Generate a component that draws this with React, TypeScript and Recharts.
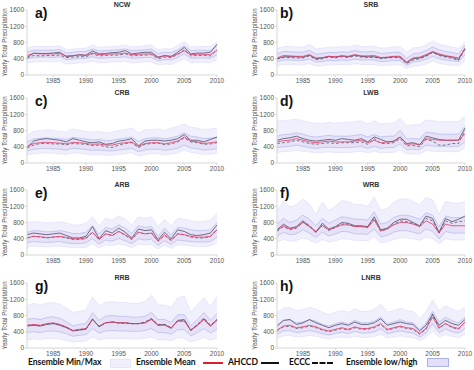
import React from 'react';
import { ComposedChart, Area, Line, XAxis, YAxis } from 'recharts';

// years 1981-2010
const YEARS = [
  1981, 1982, 1983, 1984, 1985, 1986, 1987, 1988, 1989, 1990,
  1991, 1992, 1993, 1994, 1995, 1996, 1997, 1998, 1999, 2000,
  2001, 2002, 2003, 2004, 2005, 2006, 2007, 2008, 2009, 2010,
];
const X_TICKS = [1985, 1990, 1995, 2000, 2005, 2010];
const Y_TICKS = [0, 400, 800, 1200, 1600];

// a) NCW
const NCW_MEAN = [480, 530, 520, 520, 520, 530, 470, 480, 490, 480, 540, 500, 510, 520, 520, 540, 500, 510, 520, 520, 430, 470, 450, 520, 600, 500, 510, 510, 500, 610];
const NCW_AHCCD = [430, 540, 530, 530, 540, 560, 450, 470, 500, 490, 590, 520, 530, 550, 560, 600, 520, 540, 560, 560, 440, 480, 460, 560, 680, 520, 540, 540, 560, 760];
const NCW_ECCC = [420, 480, 470, 480, 480, 490, 430, 440, 450, 450, 520, 470, 480, 490, 490, 520, 470, 480, 490, 500, 400, 440, 430, 500, 620, 470, 480, 480, 470, 620];
const NCW_MAX = [650, 700, 700, 700, 700, 720, 620, 640, 660, 660, 740, 680, 690, 700, 710, 740, 690, 700, 720, 740, 620, 650, 640, 720, 830, 690, 700, 700, 700, 820];
const NCW_MIN = [300, 320, 330, 330, 320, 340, 270, 280, 300, 300, 340, 300, 310, 320, 320, 330, 300, 310, 320, 320, 250, 270, 260, 320, 400, 300, 310, 310, 300, 380];
const NCW_LOW = [400, 430, 440, 440, 430, 450, 380, 390, 410, 410, 450, 410, 420, 430, 430, 450, 410, 420, 430, 430, 350, 380, 370, 430, 520, 410, 420, 420, 410, 500];
const NCW_HIGH = [570, 610, 610, 610, 610, 630, 540, 560, 580, 580, 640, 590, 600, 610, 620, 640, 600, 610, 620, 640, 530, 560, 550, 620, 720, 600, 610, 610, 600, 720];

// b) SRB
const SRB_MEAN = [420, 480, 470, 460, 460, 500, 420, 430, 460, 450, 470, 460, 500, 470, 470, 480, 430, 440, 460, 460, 320, 420, 440, 500, 580, 520, 480, 450, 420, 640];
const SRB_AHCCD = [400, 450, 450, 450, 440, 490, 400, 420, 460, 440, 470, 450, 490, 460, 450, 450, 420, 430, 450, 440, 300, 400, 420, 480, 560, 500, 460, 440, 380, 660];
const SRB_ECCC = [390, 430, 430, 420, 420, 470, 380, 400, 440, 420, 450, 430, 470, 440, 430, 440, 400, 420, 430, 420, 280, 370, 400, 460, 560, 480, 440, 410, 360, 640];
const SRB_MAX = [650, 700, 700, 690, 690, 750, 640, 660, 690, 680, 700, 690, 740, 700, 700, 710, 660, 670, 690, 700, 560, 670, 680, 740, 830, 760, 720, 690, 650, 820];
const SRB_MIN = [220, 260, 260, 250, 250, 280, 220, 230, 250, 250, 260, 250, 280, 260, 260, 260, 230, 240, 250, 250, 160, 220, 230, 270, 340, 290, 260, 240, 220, 350];
const SRB_LOW = [320, 370, 370, 360, 360, 390, 320, 330, 360, 350, 370, 360, 390, 370, 370, 370, 330, 340, 360, 360, 240, 320, 340, 390, 460, 400, 370, 350, 320, 500];
const SRB_HIGH = [520, 580, 570, 560, 560, 610, 510, 530, 560, 550, 570, 560, 600, 570, 570, 580, 530, 540, 560, 560, 410, 520, 540, 600, 690, 620, 580, 550, 520, 740];

// c) CRB
const CRB_MEAN = [400, 480, 500, 510, 500, 490, 470, 510, 500, 480, 460, 470, 440, 440, 480, 500, 520, 410, 480, 500, 500, 470, 500, 540, 640, 540, 520, 480, 500, 520];
const CRB_AHCCD = [380, 540, 580, 600, 580, 560, 520, 600, 560, 520, 500, 520, 460, 480, 540, 560, 600, 420, 540, 560, 560, 540, 560, 600, 700, 560, 560, 520, 580, 640];
const CRB_ECCC = [370, 440, 480, 480, 470, 470, 450, 480, 470, 460, 430, 440, 400, 380, 440, 480, 500, 380, 460, 480, 490, 450, 470, 520, 620, 520, 500, 460, 470, 500];
const CRB_MAX = [680, 780, 800, 820, 800, 780, 760, 840, 800, 780, 760, 780, 740, 760, 800, 820, 860, 740, 820, 820, 840, 800, 860, 900, 960, 880, 860, 820, 840, 860];
const CRB_MIN = [200, 230, 240, 250, 240, 230, 210, 250, 240, 220, 200, 210, 190, 190, 210, 230, 250, 170, 210, 230, 230, 200, 220, 250, 320, 260, 240, 210, 220, 240];
const CRB_LOW = [300, 340, 350, 360, 350, 340, 320, 360, 350, 330, 310, 320, 300, 300, 320, 340, 360, 280, 320, 340, 340, 310, 330, 360, 440, 370, 350, 320, 330, 350];
const CRB_HIGH = [520, 590, 610, 620, 610, 600, 580, 630, 610, 590, 570, 580, 550, 560, 590, 610, 640, 530, 600, 620, 620, 590, 620, 660, 740, 660, 640, 600, 610, 630];

// d) LWB
const LWB_MEAN = [520, 550, 560, 600, 560, 520, 500, 520, 540, 520, 520, 520, 540, 560, 500, 560, 500, 520, 520, 640, 460, 470, 460, 600, 580, 560, 560, 560, 560, 720];
const LWB_AHCCD = [560, 600, 620, 660, 600, 560, 540, 560, 580, 560, 600, 580, 560, 600, 520, 640, 580, 520, 540, 640, 480, 500, 440, 660, 620, 580, 560, 560, 560, 860];
const LWB_ECCC = [480, 500, 520, 560, 520, 480, 460, 480, 500, 480, 500, 500, 500, 520, 460, 600, 480, 480, 500, 600, 420, 430, 400, 580, 540, 440, 440, 480, 480, 800];
const LWB_MAX = [1040, 1040, 1060, 1080, 1040, 1000, 980, 980, 1000, 980, 1000, 1000, 1020, 1040, 960, 1040, 960, 980, 980, 1100, 920, 940, 940, 1060, 1040, 1020, 1020, 1020, 1020, 1160];
const LWB_MIN = [260, 280, 290, 310, 290, 270, 250, 260, 270, 260, 260, 260, 270, 290, 250, 290, 250, 260, 260, 330, 220, 230, 220, 310, 290, 280, 280, 280, 280, 380];
const LWB_LOW = [380, 400, 410, 440, 410, 380, 360, 380, 390, 380, 380, 380, 390, 410, 360, 410, 360, 380, 380, 470, 330, 340, 330, 440, 420, 410, 410, 410, 410, 520];
const LWB_HIGH = [660, 700, 710, 740, 710, 660, 640, 660, 680, 660, 660, 660, 680, 700, 640, 700, 640, 660, 660, 800, 590, 600, 590, 760, 740, 710, 710, 710, 710, 900];

// e) ARB
const ARB_MEAN = [420, 460, 450, 430, 440, 460, 430, 400, 400, 420, 560, 380, 520, 480, 580, 500, 400, 560, 520, 540, 340, 500, 360, 520, 500, 460, 440, 440, 460, 620];
const ARB_AHCCD = [500, 540, 520, 500, 520, 540, 480, 420, 420, 460, 700, 400, 600, 540, 660, 560, 420, 640, 600, 620, 380, 560, 400, 620, 580, 500, 480, 500, 540, 740];
const ARB_ECCC = [420, 460, 440, 420, 440, 450, 420, 380, 380, 400, 560, 380, 520, 480, 580, 480, 380, 560, 520, 540, 340, 480, 360, 520, 500, 440, 420, 420, 460, 640];
const ARB_MAX = [800, 820, 810, 790, 800, 820, 790, 740, 740, 780, 940, 720, 900, 860, 960, 880, 740, 940, 900, 940, 700, 880, 720, 900, 880, 840, 820, 820, 860, 1020];
const ARB_MIN = [200, 220, 210, 200, 210, 220, 200, 180, 180, 190, 280, 170, 250, 230, 280, 240, 180, 270, 250, 260, 150, 240, 160, 250, 240, 220, 210, 210, 220, 300];
const ARB_LOW = [300, 330, 320, 310, 320, 330, 300, 280, 280, 300, 400, 270, 370, 340, 410, 350, 280, 400, 370, 390, 240, 350, 260, 370, 350, 330, 320, 320, 330, 440];
const ARB_HIGH = [560, 600, 590, 570, 580, 600, 570, 530, 530, 560, 720, 510, 680, 640, 740, 660, 530, 720, 680, 700, 460, 660, 490, 680, 660, 620, 600, 600, 620, 800];

// f) WRB
const WRB_MEAN = [600, 720, 640, 680, 800, 700, 580, 720, 620, 680, 740, 740, 700, 700, 680, 860, 600, 640, 740, 800, 800, 760, 700, 840, 760, 540, 760, 720, 720, 720];
const WRB_AHCCD = [620, 760, 660, 700, 840, 720, 560, 780, 640, 700, 800, 780, 720, 720, 700, 940, 620, 660, 800, 880, 880, 800, 720, 960, 900, 560, 900, 820, 880, 960];
const WRB_ECCC = [580, 700, 620, 660, 820, 700, 560, 740, 600, 680, 760, 760, 700, 700, 680, 900, 580, 640, 760, 840, 820, 780, 700, 900, 840, 540, 840, 780, 820, 840];
const WRB_MAX = [1080, 1340, 1180, 1240, 1380, 1260, 1000, 1300, 1100, 1200, 1340, 1320, 1240, 1240, 1200, 1420, 1100, 1140, 1300, 1380, 1380, 1320, 1240, 1420, 1360, 1000, 1320, 1280, 1280, 1300];
const WRB_MIN = [320, 380, 340, 360, 420, 370, 290, 380, 320, 350, 400, 390, 360, 360, 350, 440, 300, 320, 380, 420, 420, 400, 360, 440, 400, 280, 400, 370, 370, 370];
const WRB_LOW = [460, 560, 500, 520, 620, 540, 430, 560, 470, 520, 580, 570, 520, 520, 510, 640, 450, 480, 560, 600, 600, 560, 520, 640, 580, 400, 580, 540, 540, 540];
const WRB_HIGH = [760, 900, 800, 860, 980, 880, 720, 900, 780, 860, 940, 920, 880, 880, 860, 1060, 760, 800, 920, 980, 980, 940, 880, 1040, 980, 700, 960, 920, 920, 920];

// g) RRB
const RRB_MEAN = [560, 580, 560, 600, 620, 580, 520, 430, 460, 480, 700, 540, 620, 640, 620, 620, 600, 600, 620, 700, 560, 560, 500, 660, 660, 440, 560, 700, 540, 680];
const RRB_AHCCD = [540, 560, 540, 580, 600, 560, 500, 420, 440, 460, 720, 520, 620, 640, 620, 620, 600, 600, 620, 720, 560, 580, 480, 680, 700, 430, 560, 720, 540, 700];
const RRB_ECCC = [560, 570, 550, 590, 610, 570, 510, 430, 450, 470, 700, 530, 620, 640, 610, 610, 600, 600, 640, 720, 580, 580, 500, 660, 680, 450, 580, 740, 560, 700];
const RRB_MAX = [1040, 1100, 1060, 1100, 1120, 1080, 980, 880, 900, 940, 1260, 1040, 1120, 1140, 1120, 1120, 1100, 1100, 1140, 1300, 1060, 1060, 1000, 1240, 1280, 880, 1060, 1240, 1020, 1280];
const RRB_MIN = [200, 220, 210, 230, 240, 220, 190, 150, 160, 170, 270, 200, 230, 240, 230, 230, 220, 220, 240, 270, 200, 200, 180, 250, 240, 150, 200, 260, 190, 250];
const RRB_LOW = [380, 400, 380, 410, 420, 400, 350, 290, 310, 330, 480, 370, 420, 430, 420, 420, 410, 410, 430, 480, 380, 380, 340, 450, 450, 300, 380, 480, 370, 460];
const RRB_HIGH = [700, 730, 700, 750, 770, 730, 650, 540, 580, 600, 870, 680, 780, 800, 780, 780, 760, 760, 780, 870, 700, 700, 630, 820, 820, 550, 700, 870, 680, 850];

// h) LNRB
const LNRB_MEAN = [440, 540, 560, 500, 520, 560, 520, 460, 420, 460, 500, 460, 520, 480, 480, 520, 600, 460, 500, 540, 500, 480, 360, 480, 760, 500, 600, 520, 480, 640];
const LNRB_AHCCD = [540, 680, 700, 580, 620, 700, 620, 560, 500, 560, 600, 560, 640, 580, 580, 620, 720, 560, 600, 640, 600, 580, 420, 560, 820, 560, 680, 600, 560, 700];
const LNRB_ECCC = [420, 520, 540, 480, 500, 540, 500, 440, 400, 440, 480, 440, 500, 460, 460, 500, 580, 440, 480, 520, 480, 460, 340, 460, 840, 480, 600, 500, 460, 640];
const LNRB_MAX = [860, 980, 1000, 920, 950, 1000, 960, 880, 820, 880, 920, 880, 960, 900, 900, 950, 1080, 880, 920, 980, 920, 900, 720, 900, 1180, 920, 1040, 960, 900, 1000];
const LNRB_MIN = [240, 300, 310, 270, 280, 310, 290, 250, 220, 250, 270, 250, 290, 260, 260, 280, 340, 250, 270, 300, 270, 260, 180, 260, 420, 270, 330, 290, 260, 340];
const LNRB_LOW = [340, 420, 430, 380, 400, 430, 400, 350, 320, 360, 390, 350, 410, 370, 370, 400, 470, 350, 390, 420, 390, 370, 270, 370, 600, 380, 470, 400, 370, 480];
const LNRB_HIGH = [560, 680, 700, 620, 640, 700, 660, 580, 540, 600, 640, 590, 680, 620, 620, 660, 760, 600, 640, 700, 640, 620, 460, 620, 900, 640, 760, 670, 620, 760];

const MEAN_COLOR = '#e23a68';
const OBS_COLOR = '#3a3a52';

interface PanelProps {
  letter: string;
  name: string;
  left: number;
  top: number;
  right?: boolean;
  mean: number[];
  ahccd: number[];
  eccc: number[];
  min: number[];
  max: number[];
  low: number[];
  high: number[];
}

const PLOT_TOP = 10;

const Panel: React.FC<PanelProps> = (p) => {
  const rows = YEARS.map((year, i) => ({
    year,
    mean: p.mean[i],
    ahccd: p.ahccd[i],
    eccc: p.eccc[i],
    minMax: [p.min[i], p.max[i]],
    lowHigh: [p.low[i], p.high[i]],
  }));
  const mr = p.right ? 22 : 20;
  const plotLeft = 27;
  const plotW = 237 - plotLeft - mr;

  return (
    <div style={{ position: 'absolute', left: p.left, top: p.top - PLOT_TOP, width: 237, height: 89 }}>
      <ComposedChart width={237} height={89} data={rows} margin={{ top: PLOT_TOP, right: mr, bottom: 0, left: 0 }}>
        <XAxis
          dataKey="year"
          type="number"
          domain={[1981, 2010]}
          ticks={X_TICKS}
          height={14}
          tickSize={2}
          tickMargin={1}
          tick={{ fontSize: 6.5, fill: '#555' }}
          axisLine={{ stroke: '#d6d6d6' }}
          tickLine={{ stroke: '#d6d6d6' }}
        />
        <YAxis
          domain={[0, 1600]}
          ticks={Y_TICKS}
          width={27}
          tickSize={2}
          tickMargin={1}
          tick={{ fontSize: 6.5, fill: '#555' }}
          axisLine={{ stroke: '#d6d6d6' }}
          tickLine={{ stroke: '#d6d6d6' }}
          label={{
            value: 'Yearly Total Precipitation',
            angle: -90,
            position: 'insideLeft',
            offset: 5,
            style: { textAnchor: 'middle', fontSize: 6.3, fill: '#555' },
          }}
        />
        <Area
          dataKey="minMax"
          stroke="#dedcf6"
          strokeWidth={0.6}
          fill="#f0effc"
          fillOpacity={1}
          isAnimationActive={false}
          dot={false}
          activeDot={false}
        />
        <Area
          dataKey="lowHigh"
          stroke="#b0b8ec"
          strokeWidth={0.7}
          fill="#e7e1f7"
          fillOpacity={1}
          isAnimationActive={false}
          dot={false}
          activeDot={false}
        />
        <Line dataKey="eccc" stroke="#4a4a5c" strokeWidth={0.7} strokeDasharray="3 2" dot={false} isAnimationActive={false} />
        <Line dataKey="ahccd" stroke={OBS_COLOR} strokeWidth={0.7} dot={false} isAnimationActive={false} />
        <Line dataKey="mean" stroke={MEAN_COLOR} strokeWidth={0.8} dot={false} isAnimationActive={false} />
      </ComposedChart>
      <div
        style={{
          position: 'absolute',
          left: plotLeft,
          width: plotW,
          top: 1,
          textAlign: 'center',
          fontSize: 7,
          fontWeight: 'bold',
          color: '#333',
        }}
      >
        {p.name}
      </div>
      <div
        style={{
          position: 'absolute',
          left: plotLeft + (p.right ? 3 : 8),
          top: 6,
          fontSize: 14,
          fontWeight: 'bold',
          color: '#111',
          lineHeight: '14px',
        }}
      >
        {p.letter}
      </div>
    </div>
  );
};

const legendText: React.CSSProperties = {
  position: 'absolute',
  top: 356,
  fontFamily: 'Lato, sans-serif',
  fontWeight: 'bold',
  fontSize: 8.6,
  letterSpacing: -0.1,
  color: '#111',
  whiteSpace: 'nowrap',
  lineHeight: '12px',
};

export default function App() {
  return (
    <div
      style={{
        position: 'absolute',
        left: 0,
        top: 0,
        width: 474,
        height: 370,
        background: '#fff',
        overflow: 'hidden',
        fontFamily: '"Liberation Sans", Arial, sans-serif',
      }}
    >
      <Panel letter="a)" name="NCW" left={0} top={10} mean={NCW_MEAN} ahccd={NCW_AHCCD} eccc={NCW_ECCC} min={NCW_MIN} max={NCW_MAX} low={NCW_LOW} high={NCW_HIGH} />
      <Panel letter="b)" name="SRB" left={250} top={10} right mean={SRB_MEAN} ahccd={SRB_AHCCD} eccc={SRB_ECCC} min={SRB_MIN} max={SRB_MAX} low={SRB_LOW} high={SRB_HIGH} />
      <Panel letter="c)" name="CRB" left={0} top={98} mean={CRB_MEAN} ahccd={CRB_AHCCD} eccc={CRB_ECCC} min={CRB_MIN} max={CRB_MAX} low={CRB_LOW} high={CRB_HIGH} />
      <Panel letter="d)" name="LWB" left={250} top={98} right mean={LWB_MEAN} ahccd={LWB_AHCCD} eccc={LWB_ECCC} min={LWB_MIN} max={LWB_MAX} low={LWB_LOW} high={LWB_HIGH} />
      <Panel letter="e)" name="ARB" left={0} top={190} mean={ARB_MEAN} ahccd={ARB_AHCCD} eccc={ARB_ECCC} min={ARB_MIN} max={ARB_MAX} low={ARB_LOW} high={ARB_HIGH} />
      <Panel letter="f)" name="WRB" left={250} top={190} right mean={WRB_MEAN} ahccd={WRB_AHCCD} eccc={WRB_ECCC} min={WRB_MIN} max={WRB_MAX} low={WRB_LOW} high={WRB_HIGH} />
      <Panel letter="g)" name="RRB" left={0} top={283} mean={RRB_MEAN} ahccd={RRB_AHCCD} eccc={RRB_ECCC} min={RRB_MIN} max={RRB_MAX} low={RRB_LOW} high={RRB_HIGH} />
      <Panel letter="h)" name="LNRB" left={250} top={283} right mean={LNRB_MEAN} ahccd={LNRB_AHCCD} eccc={LNRB_ECCC} min={LNRB_MIN} max={LNRB_MAX} low={LNRB_LOW} high={LNRB_HIGH} />

      {/* legend */}
      <div style={{ ...legendText, left: 28 }}>Ensemble Min/Max</div>
      <div style={{ position: 'absolute', left: 110, top: 359, width: 19, height: 7, background: '#f0effc', border: '1px solid #e6e4f8' }} />
      <div style={{ ...legendText, left: 136 }}>Ensemble Mean</div>
      <div style={{ position: 'absolute', left: 203, top: 362, width: 20, height: 2, background: '#d8202e' }} />
      <div style={{ ...legendText, left: 228 }}>AHCCD</div>
      <div style={{ position: 'absolute', left: 261, top: 362, width: 18, height: 2, background: '#111' }} />
      <div style={{ ...legendText, left: 289 }}>ECCC</div>
      <div style={{ position: 'absolute', left: 312, top: 362, width: 21, height: 0, borderTop: '2px dashed #111' }} />
      <div style={{ ...legendText, left: 346 }}>Ensemble low/high</div>
      <div style={{ position: 'absolute', left: 427, top: 358, width: 20, height: 7, background: '#e4dff7', border: '1px solid #a9b2ea' }} />
    </div>
  );
}
